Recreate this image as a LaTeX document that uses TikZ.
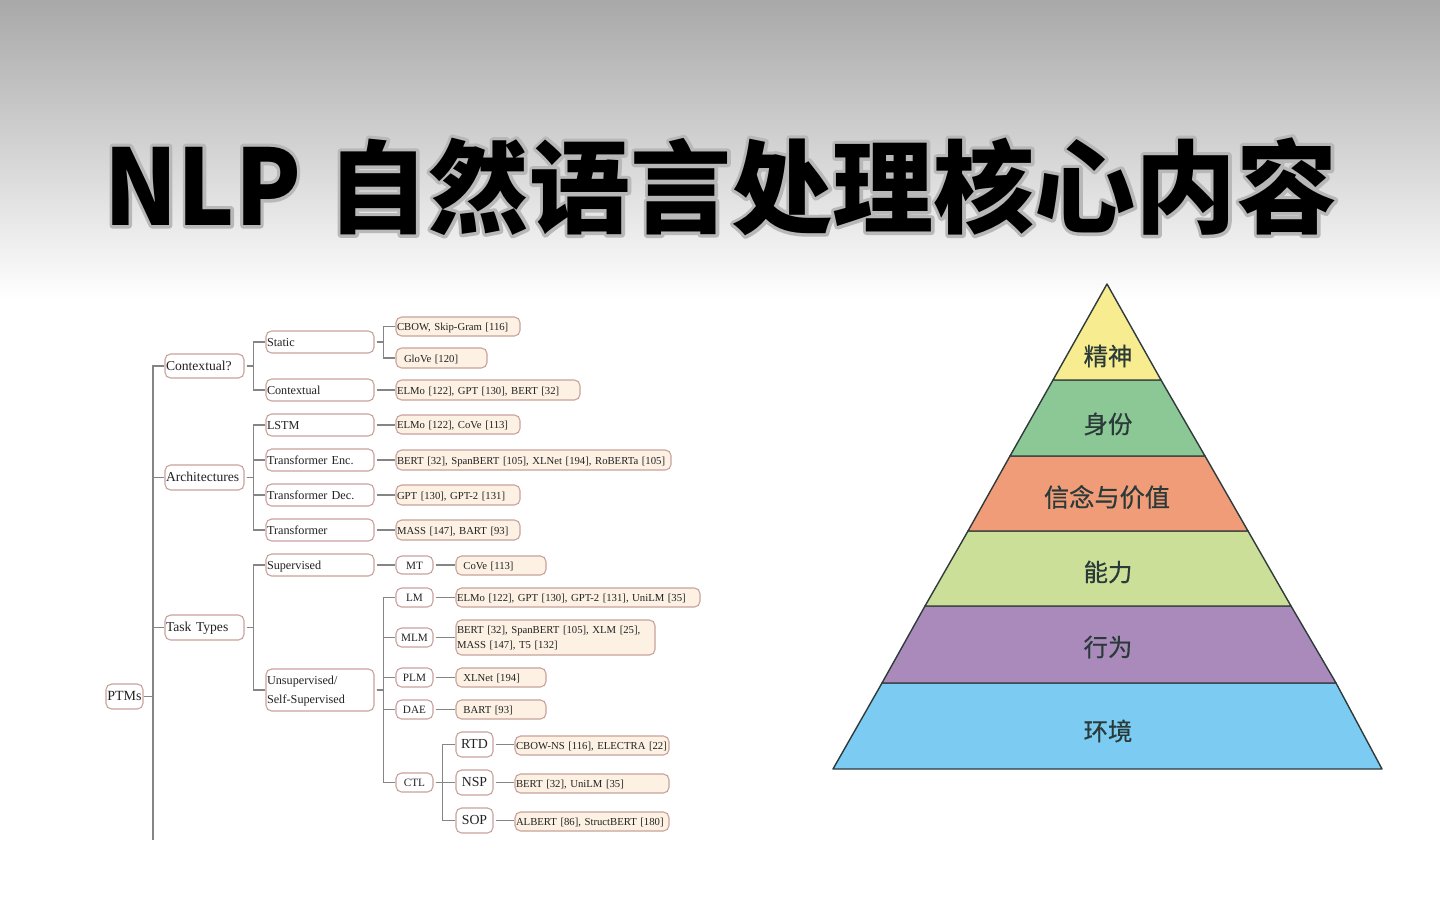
\documentclass[tikz,border=0pt]{standalone}
\usepackage{graphicx}
\usepackage{fontspec}
\setmainfont{Liberation Serif}
\newfontfamily\cjk[FakeBold=0.5]{Noto Sans CJK SC}
\newfontfamily\titlefont{Noto Sans CJK SC Black}
\newfontfamily\titlehalo[FakeBold=6.5]{Noto Sans CJK SC Black}
\definecolor{edgeline}{HTML}{858585}
\definecolor{boxline}{HTML}{C8A29C}
\definecolor{leaffill}{HTML}{FDF1E4}
\definecolor{inktext}{HTML}{222222}
\definecolor{pyrtext}{HTML}{2A3A38}
\definecolor{pyrline}{HTML}{2F3A3A}
\definecolor{pyryellow}{HTML}{F8EC90}
\definecolor{pyrgreen}{HTML}{8CC796}
\definecolor{pyrorange}{HTML}{F09C78}
\definecolor{pyrlime}{HTML}{CBDF98}
\definecolor{pyrpurple}{HTML}{A98ABB}
\definecolor{pyrblue}{HTML}{7CCBF2}
\tikzset{
  tbox/.style={draw=boxline,line width=0.55pt,rounded corners=2.8pt,fill=white,inner xsep=0.5pt,inner ysep=0pt,text=inktext,align=left},
  leafbox/.style={tbox,fill=leaffill},
  midbox/.style={tbox,align=center},
  lvlone/.style={font=\fontsize{6.8pt}{8pt}\selectfont},
  lvltwo/.style={font=\fontsize{6.1pt}{7.5pt}\selectfont},
  lvlleaf/.style={font=\fontsize{5.35pt}{7.5pt}\selectfont},
  lvlsmall/.style={font=\fontsize{5.6pt}{7.5pt}\selectfont},
  lvlbig/.style={font=\fontsize{6.9pt}{8pt}\selectfont},
  lvlroot/.style={font=\fontsize{7pt}{8pt}\selectfont},
  conn/.style={draw=edgeline,line width=0.55pt},
  pyr/.style={draw=pyrline,line width=0.7pt,line join=round},
  pyrlabel/.style={text=pyrtext,font=\cjk\fontsize{12.2pt}{14pt}\selectfont},
  titletext/.style={anchor=west,inner sep=0pt}
}
\newcommand{\lowstrut}{\rule[-2pt]{0pt}{8pt}}
\newcommand{\titlestring}{\fontsize{50.5pt}{60pt}\selectfont\scalebox{0.95}[1.04]{NLP}\hspace{1.7pt} 自然语言处理核心内容}
% name, style, x1, y1, x2, y2, text (pixel coordinates)
\newcommand{\bx}[7]{%
  \pgfmathsetmacro{\bxw}{(#5-#3)*0.5}%
  \pgfmathsetmacro{\bxh}{(#6-#4)*0.5}%
  \pgfmathsetmacro{\bxtw}{(#5-#3)*0.5-1}%
  \pgfmathsetmacro{\bxx}{(#3+#5)/2}%
  \pgfmathsetmacro{\bxy}{(#4+#6)/2}%
  \node[#2,minimum width=\bxw pt,minimum height=\bxh pt,text width=\bxtw pt] (#1) at (\bxx,\bxy) {\lowstrut #7};}
\begin{document}
\begin{tikzpicture}[x=0.5pt,y=-0.5pt]
\useasboundingbox (0,0) rectangle (1440,900);
\fill[white] (0,0) rectangle (1440,900);
\shade[top color=black!34,bottom color=white] (0,0) rectangle (1440,300);
% title
\begin{scope}[line join=round]
\node[titletext,text=black!28,font=\titlehalo] (titleback) at (104,186.5) {\titlestring};
\end{scope}
\node[titletext,text=black,font=\titlefont] (title) at (104,186.5) {\titlestring};
% tree nodes
\bx{ptms}{tbox,lvlroot,align=center}{106}{684}{143}{709}{PTMs}
\bx{ctx}{tbox,lvlone}{165}{354}{244}{378}{Contextual?}
\bx{arch}{tbox,lvlone}{165}{465}{244}{490}{Architectures}
\bx{task}{tbox,lvlone}{165}{615}{244}{640}{Task Types}
\bx{static}{tbox,lvltwo}{266}{331}{374}{353}{Static}
\bx{context}{tbox,lvltwo}{266}{379}{374}{401}{Contextual}
\bx{lstm}{tbox,lvltwo}{266}{414}{374}{436}{LSTM}
\bx{enc}{tbox,lvltwo}{266}{449}{374}{471}{Transformer Enc.}
\bx{dec}{tbox,lvltwo}{266}{484}{374}{506}{Transformer Dec.}
\bx{trans}{tbox,lvltwo}{266}{519}{374}{541}{Transformer}
\bx{sup}{tbox,lvltwo}{266}{554}{374}{576}{Supervised}
\node[tbox,lvltwo,font=\fontsize{6.1pt}{9.5pt}\selectfont,minimum width=54pt,minimum height=21pt,text width=53pt] (unsup) at (320,690) {\rule{0pt}{7.2pt}Unsupervised/\\\strut Self-Supervised};
\bx{lcbow}{leafbox,lvlleaf}{396}{317}{520}{336}{CBOW, Skip-Gram [116]}
\bx{lglove}{leafbox,lvlleaf}{396}{348}{487}{368}{\hspace*{3.5pt}GloVe [120]}
\bx{lctx}{leafbox,lvlleaf}{396}{380}{580}{400}{ELMo [122], GPT [130], BERT [32]}
\bx{llstm}{leafbox,lvlleaf}{396}{415}{520}{434}{ELMo [122], CoVe [113]}
\bx{lenc}{leafbox,lvlleaf}{396}{450}{671}{470}{BERT [32], SpanBERT [105], XLNet [194], RoBERTa [105]}
\bx{ldec}{leafbox,lvlleaf}{396}{485}{520}{505}{GPT [130], GPT-2 [131]}
\bx{ltrans}{leafbox,lvlleaf}{396}{520}{520}{540}{MASS [147], BART [93]}
\bx{mt}{midbox,lvlsmall}{396}{556}{433}{574}{MT}
\bx{lm}{midbox,lvlsmall}{396}{588}{433}{607}{LM}
\bx{mlm}{midbox,lvlsmall}{396}{628}{433}{647}{MLM}
\bx{plm}{midbox,lvlsmall}{396}{668}{433}{687}{PLM}
\bx{dae}{midbox,lvlsmall}{396}{700}{433}{719}{DAE}
\bx{ctl}{midbox,lvlsmall}{396}{773}{433}{792}{CTL}
\bx{lmt}{leafbox,lvlleaf}{456}{556}{546}{575}{\hspace*{3.2pt}CoVe [113]}
\bx{llm}{leafbox,lvlleaf}{456}{588}{700}{607}{ELMo [122], GPT [130], GPT-2 [131], UniLM [35]}
\node[leafbox,lvlleaf,minimum width=99.5pt,minimum height=17.5pt,text width=98.5pt] (lmlm) at (555.5,637.5) {\rule{0pt}{5.5pt}BERT [32], SpanBERT [105], XLM [25],\\\strut MASS [147], T5 [132]};
\bx{lplm}{leafbox,lvlleaf}{456}{668}{546}{687}{\hspace*{3.2pt}XLNet [194]}
\bx{ldae}{leafbox,lvlleaf}{456}{700}{546}{719}{\hspace*{3.2pt}BART [93]}
\bx{rtd}{midbox,lvlbig}{456}{732}{493}{757}{RTD}
\bx{nsp}{midbox,lvlbig}{456}{770}{493}{795}{NSP}
\bx{sop}{midbox,lvlbig}{456}{808}{493}{833}{SOP}
\bx{lrtd}{leafbox,lvlleaf}{515}{736}{669}{755}{CBOW-NS [116], ELECTRA [22]}
\bx{lnsp}{leafbox,lvlleaf}{515}{774}{669}{793}{BERT [32], UniLM [35]}
\bx{lsop}{leafbox,lvlleaf}{515}{812}{669}{831}{ALBERT [86], StructBERT [180]}
% connectors
\coordinate (ptmend) at (153,840);
\draw[conn] (ptms.east) -- (ptms.east -| ptmend) -- (ptmend);
\foreach \c in {ctx,arch,task} \draw[conn] (ptms.east -| ptmend) |- (\c.west);
\foreach \c in {static,context} \draw[conn,shorten <=1pt] (ctx.east) -- ++(9,0) |- (\c.west);
\foreach \c in {lstm,enc,dec,trans} \draw[conn,shorten <=1pt] (arch.east) -- ++(9,0) |- (\c.west);
\foreach \c in {sup,unsup} \draw[conn,shorten <=1pt] (task.east) -- ++(9,0) |- (\c.west);
\foreach \c in {lcbow,lglove} \draw[conn,shorten <=1pt] (static.east) -- ++(9,0) |- (\c.west);
\foreach \p/\c in {context/lctx,lstm/llstm,enc/lenc,dec/ldec,trans/ltrans,sup/mt,mt/lmt,lm/llm,mlm/lmlm,plm/lplm,dae/ldae}
  \draw[conn,shorten <=1pt] (\p.east) -- (\p.east -| \c.west);
\foreach \c in {lm,mlm,plm,dae,ctl} \draw[conn,shorten <=1pt] (unsup.east) -- ++(9,0) |- (\c.west);
\foreach \c in {rtd,nsp,sop} \draw[conn,shorten <=1pt] (ctl.east) -- ++(9,0) |- (\c.west);
\foreach \p/\c in {rtd/lrtd,nsp/lnsp,sop/lsop} \draw[conn,shorten <=1pt] (\p.east) -- (\p.east -| \c.west);
% pyramid
\filldraw[pyr,fill=pyrblue] (833,769) -- (1382,769) -- (1336,683) -- (882,683) -- cycle;
\filldraw[pyr,fill=pyrpurple] (882,683) -- (1336,683) -- (1291,606) -- (925,606) -- cycle;
\filldraw[pyr,fill=pyrlime] (925,606) -- (1291,606) -- (1248,531) -- (968,531) -- cycle;
\filldraw[pyr,fill=pyrorange] (968,531) -- (1248,531) -- (1205,456) -- (1010,456) -- cycle;
\filldraw[pyr,fill=pyrgreen] (1010,456) -- (1205,456) -- (1161,380) -- (1053,380) -- cycle;
\filldraw[pyr,fill=pyryellow] (1053,380) -- (1161,380) -- (1107,284) -- cycle;
\node[pyrlabel] (p1) at (1108,356) {精神};
\node[pyrlabel] (p2) at (1108,424) {身份};
\node[pyrlabel,font=\cjk\fontsize{12.6pt}{14pt}\selectfont] (p3) at (1107,497) {信念与价值};
\node[pyrlabel] (p4) at (1108,572) {能力};
\node[pyrlabel] (p5) at (1108,647) {行为};
\node[pyrlabel] (p6) at (1108,731) {环境};
\end{tikzpicture}
\end{document}
